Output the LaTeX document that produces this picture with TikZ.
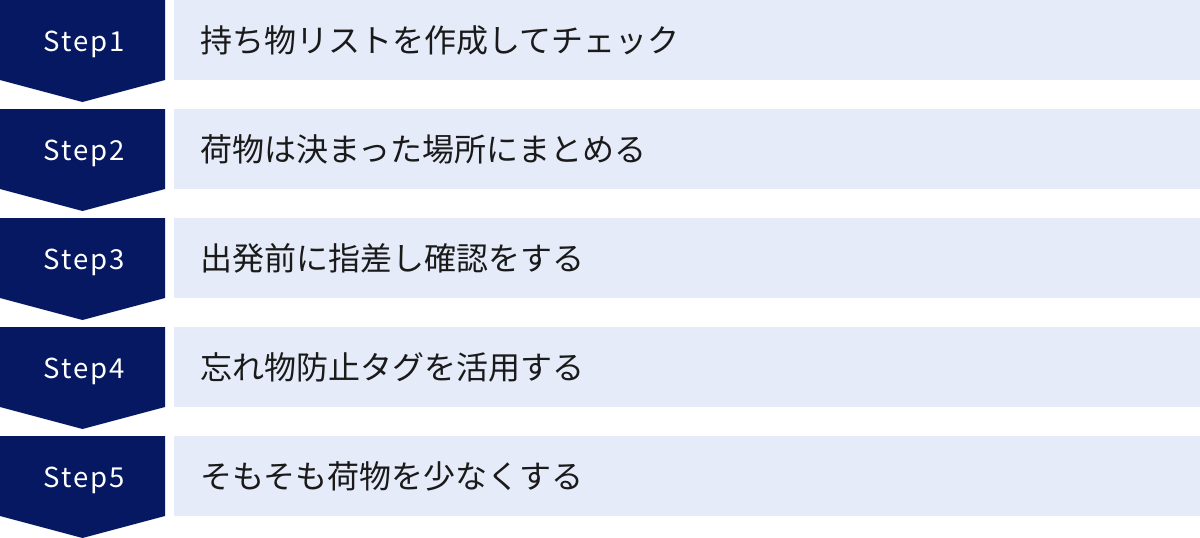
\documentclass[tikz,border=0pt]{standalone}
\usepackage{fontspec}
\setmainfont{Noto Sans CJK JP}
\newfontfamily\jpfont{Noto Sans CJK JP}
\newfontfamily\stepfont[LetterSpace=7]{Noto Sans CJK JP}
\definecolor{navy}{HTML}{061862}
\definecolor{paleblue}{HTML}{E5EBF9}
\definecolor{ink}{HTML}{1A1A1A}
\tikzset{
  stepshape/.style={fill=navy, draw=none},
  barbox/.style={fill=paleblue, draw=none},
  steplabel/.style={text=white, font=\stepfont\fontsize{27.5}{30}\selectfont, inner sep=0pt, anchor=base},
  itemlabel/.style={text=ink, font=\jpfont\fontsize{32}{36}\selectfont, anchor=west, inner sep=0pt}
}
\begin{document}
\begin{tikzpicture}[x=1pt,y=-1pt]
\useasboundingbox (0,0) rectangle (1200,538);
\foreach \i/\txt in {1/持ち物リストを作成してチェック,2/荷物は決まった場所にまとめる,3/出発前に指差し確認をする,4/忘れ物防止タグを活用する,5/そもそも荷物を少なくする}{
  \pgfmathsetmacro{\top}{(\i-1)*109}
  \fill[stepshape] (0,\top) -- (165,\top) -- (165,\top+80) -- (82.5,\top+102) -- (0,\top+80) -- cycle;
  \fill[barbox] (174,\top) rectangle (1200,\top+80);
  \node[steplabel] (s\i) at (84,\top+51.5) {Step\i};
  \node[itemlabel] (t\i) at (200,\top+40) {\txt};
}
\end{tikzpicture}
\end{document}
